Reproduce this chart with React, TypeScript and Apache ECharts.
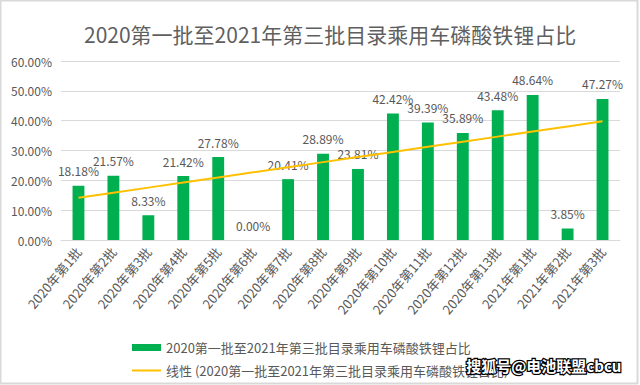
import React, { useEffect, useRef } from "react";
import * as echarts from "echarts";

const title = "2020第一批至2021年第三批目录乘用车磷酸铁锂占比";
const categories = [
  "2020年第1批", "2020年第2批", "2020年第3批", "2020年第4批",
  "2020年第5批", "2020年第6批", "2020年第7批", "2020年第8批",
  "2020年第9批", "2020年第10批", "2020年第11批", "2020年第12批",
  "2020年第13批", "2021年第1批", "2021年第2批", "2021年第3批",
];
const shares = [
  18.18, 21.57, 8.33, 21.42, 27.78, 0.0, 20.41, 28.89,
  23.81, 42.42, 39.39, 35.89, 43.48, 48.64, 3.85, 47.27,
];
const yTicks = [0, 10, 20, 30, 40, 50, 60];
const trendName = "线性 (" + title + ")";
const watermark = "搜狐号@电池联盟cbcu";

// Least-squares linear trend over the batch index, like a spreadsheet trendline
function linearTrend(values: number[]): number[] {
  const n = values.length;
  const xs = values.map((_, i) => i + 1);
  const mx = xs.reduce((a, b) => a + b, 0) / n;
  const my = values.reduce((a, b) => a + b, 0) / n;
  let sxy = 0;
  let sxx = 0;
  for (let i = 0; i < n; i++) {
    sxy += (xs[i] - mx) * (values[i] - my);
    sxx += (xs[i] - mx) * (xs[i] - mx);
  }
  const slope = sxy / sxx;
  return xs.map((x) => my + slope * (x - mx));
}

const FONT = '"Noto Sans CJK SC", "Noto Sans", sans-serif';
const GREY = "#595959";

export default function App() {
  const ref = useRef<HTMLDivElement>(null);

  useEffect(() => {
    if (!ref.current) return;
    const chart = echarts.init(ref.current, undefined, { renderer: "svg" });
    chart.setOption({
      animation: false,
      backgroundColor: "#ffffff",
      textStyle: { fontFamily: FONT },
      title: {
        text: title,
        left: 79,
        top: 18,
        textStyle: { fontFamily: FONT, fontSize: 21, fontWeight: "normal", color: "#5f5f5f" },
      },
      grid: { left: 61, right: 20, top: 61, bottom: 145 },
      legend: {
        orient: "vertical",
        left: 126,
        top: 334,
        itemWidth: 29,
        itemHeight: 7,
        itemGap: 6,
        textStyle: { fontFamily: FONT, fontSize: 13, color: GREY, lineHeight: 17 },
        data: [
          { name: title, icon: "rect" },
          { name: trendName, itemStyle: { opacity: 0 } },
        ],
      },
      xAxis: {
        type: "category",
        data: categories,
        axisLine: { lineStyle: { color: "#d9d9d9" } },
        axisTick: { show: false },
        axisLabel: {
          rotate: 50,
          interval: 0,
          color: GREY,
          fontSize: 13,
          fontFamily: FONT,
          margin: 9,
        },
      },
      yAxis: {
        type: "value",
        min: yTicks[0],
        max: yTicks[yTicks.length - 1],
        interval: 10,
        axisLine: { show: false },
        axisTick: { show: false },
        splitLine: { lineStyle: { color: "#d9d9d9" } },
        axisLabel: {
          color: GREY,
          fontSize: 12,
          fontFamily: FONT,
          margin: 9,
          formatter: (v: number) => v.toFixed(2) + "%",
        },
      },
      series: [
        {
          name: title,
          type: "bar",
          data: shares,
          barWidth: "34%",
          itemStyle: { color: "#00B050" },
          label: {
            show: true,
            position: "top",
            distance: 9,
            color: GREY,
            fontSize: 12,
            fontFamily: FONT,
            formatter: (p: any) => Number(p.value).toFixed(2) + "%",
          },
          z: 2,
        },
        {
          name: trendName,
          type: "line",
          data: linearTrend(shares),
          symbol: "none",
          lineStyle: { color: "#FFC000", width: 2 },
          itemStyle: { color: "#FFC000" },
          z: 3,
        },
      ],
      graphic: [
        {
          type: "rect",
          shape: { x: 0.5, y: 0.5, width: 637, height: 383 },
          style: { fill: "none", stroke: "#d9d9d9", lineWidth: 2 },
          silent: true,
        },
        {
          type: "text",
          left: 465,
          top: 357,
          z: 100,
          style: {
            text: watermark,
            fontFamily: FONT,
            fontSize: 15,
            fontWeight: "bold",
            fill: "#ffffff",
            stroke: "#000000",
            lineWidth: 2.5,
          },
        },
      ],
    });
    return () => chart.dispose();
  }, []);

  return (
    <div
      ref={ref}
      style={{ position: "absolute", left: 0, top: 0, width: 640, height: 385 }}
    />
  );
}
